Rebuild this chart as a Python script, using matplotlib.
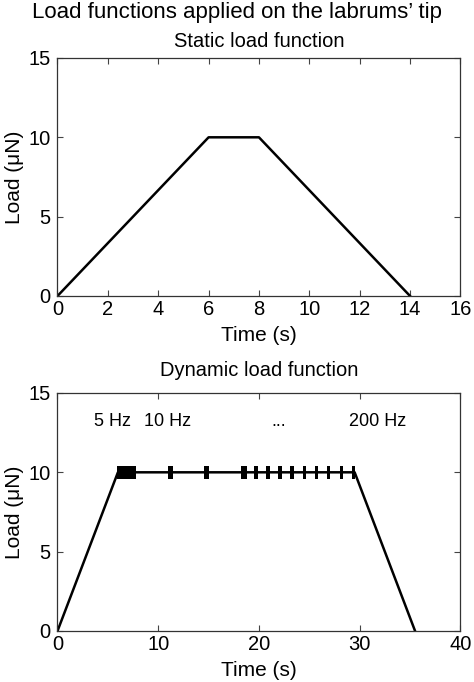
import matplotlib.pyplot as plt

plt.rcParams['font.family'] = ['Liberation Sans', 'DejaVu Sans']

# static load function
static_t = [0, 6, 8, 14]
static_load = [0, 10, 10, 0]

# dynamic load function
dyn_t = [0, 6, 29.5, 35.5]
dyn_load = [0, 10, 10, 0]

# oscillation bursts on the plateau (centre time, duration)
burst_t = [6.85, 11.2, 14.8, 18.5, 19.7, 20.9, 22.1, 23.3, 24.5, 25.7, 26.9, 28.2, 29.4]
burst_w = [1.9, 0.5, 0.5, 0.55, 0.35, 0.35, 0.35, 0.35, 0.35, 0.35, 0.35, 0.35, 0.35]
burst_amp = 0.4

freq_labels = ['5 Hz', '10 Hz', '...', '200 Hz']
freq_pos = [5.5, 10.9, 22.0, 31.8]

fig = plt.figure(figsize=(4.74, 6.82), dpi=100)
fig.text(0.5, 0.982, "Load functions applied on the labrums\u2019 tip", ha='center', va='center', fontsize=16)

ax1 = fig.add_axes([0.1213, 0.566, 0.850, 0.349])
ax1.plot(static_t, static_load, color='black', lw=1.8)
ax1.set_xlim(0, 16)
ax1.set_ylim(0, 15)
ax1.set_xticks(range(0, 17, 2))
ax1.set_yticks([0, 5, 10, 15])
ax1.set_xlabel('Time (s)', fontsize=15, labelpad=5)
ax1.set_ylabel('Load (\u03bcN)', fontsize=15, labelpad=3)
ax1.set_title('Static load function', fontsize=14.5, pad=8)

ax2 = fig.add_axes([0.1213, 0.0748, 0.850, 0.349])
ax2.plot(dyn_t, dyn_load, color='black', lw=1.8)
ax2.bar(burst_t, 2 * burst_amp, width=burst_w, bottom=10 - burst_amp, color='black')
for lab, xp in zip(freq_labels, freq_pos):
    ax2.text(xp, 13.2, lab, ha='center', va='center', fontsize=13)
ax2.set_xlim(0, 40)
ax2.set_ylim(0, 15)
ax2.set_xticks(range(0, 41, 10))
ax2.set_yticks([0, 5, 10, 15])
ax2.set_xlabel('Time (s)', fontsize=15, labelpad=5)
ax2.set_ylabel('Load (\u03bcN)', fontsize=15, labelpad=3)
ax2.set_title('Dynamic load function', fontsize=14.5, pad=12)

for ax in (ax1, ax2):
    ax.tick_params(direction='in', top=True, right=True, labelsize=14.5, length=4, width=0.8, pad=3, color='#444444')
    ax.tick_params(axis='y', pad=5)
    for s in ax.spines.values():
        s.set_linewidth(0.9)
        s.set_color('#333333')

fig.savefig('out.png', dpi=100)
